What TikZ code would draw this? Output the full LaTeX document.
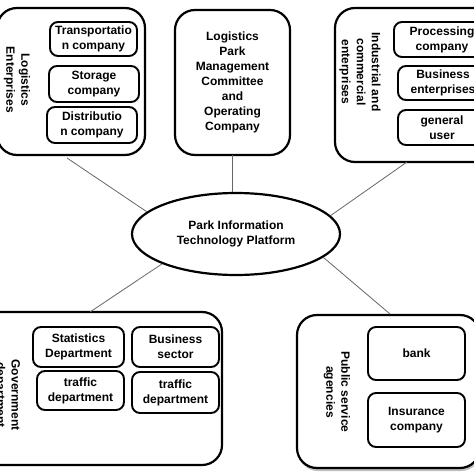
\documentclass[tikz,border=0pt]{standalone}
\usepackage{fontspec}
\setmainfont{Liberation Sans}
\usetikzlibrary{shapes.geometric}
\begin{document}
\begin{tikzpicture}[x=1bp,y=-1bp,
  every node/.style={font=\fontsize{12bp}{15bp}\selectfont\bfseries, align=center, inner sep=0pt},
  outer/.style={draw=black, line width=2.2bp, rounded corners=20bp, minimum width=#1},
  inner/.style={draw=black, line width=1.9bp, rounded corners=8bp},
  lbl/.style={rotate=-90},
  conn/.style={draw=black!60, line width=0.8bp}]
\useasboundingbox (0,0) rectangle (474,474);
% top-left
\node[outer=148bp, minimum height=147bp] (tl) at (71,81.5) {};
\node[inner, minimum width=87bp, minimum height=34bp] (tl1) at (93.5,39) {Transportatio\\n company};
\node[inner, minimum width=90bp, minimum height=36bp] (tl2) at (94,84) {Storage\\company};
\node[inner, minimum width=90bp, minimum height=36bp] (tl3) at (92,125) {Distributio\\n company};
\node[lbl] (tll) at (17,80) {Logistics\\Enterprises};
% top middle
\node[outer=115bp, minimum height=145bp] (tm) at (232.5,82.5) {Logistics\\Park\\Management\\Committee\\and\\Operating\\Company};
% top-right
\node[outer=165bp, minimum height=154bp] (tr) at (417.5,85) {};
\node[inner, minimum width=96bp, minimum height=35bp] (tr1) at (442,39.5) {Processing\\company};
\node[inner, minimum width=90bp, minimum height=34bp] (tr2) at (443,83) {Business\\enterprises};
\node[inner, minimum width=88bp, minimum height=35bp] (tr3) at (442,127.5) {general\\user};
\node[lbl] (trl) at (360,72) {Industrial and\\commercial\\enterprises};
% ellipse
\node[ellipse, draw=black, line width=2.2bp, minimum width=208bp, minimum height=82bp] (ell) at (236,234) {Park Information\\Technology Platform};
% bottom-left
\node[outer=247bp, minimum height=153bp] (bl) at (98.5,388.5) {};
\node[inner, minimum width=91bp, minimum height=40bp] (bl1) at (78.5,347) {Statistics\\Department};
\node[inner, minimum width=87bp, minimum height=40bp] (bl2) at (175.5,347) {Business\\sector};
\node[inner, minimum width=87bp, minimum height=39bp] (bl3) at (80.5,390.5) {traffic\\department};
\node[inner, minimum width=87bp, minimum height=41bp] (bl4) at (175.5,392.5) {traffic\\department};
\node[lbl] (bll) at (7,395) {Government\\department};
% bottom-right (with soft shadow)
\node[fill=black!25, rounded corners=20bp, minimum width=183bp, minimum height=153bp] (brs) at (389.5,394.5) {};
\node[outer=183bp, minimum height=153bp, fill=white] (br) at (388.5,391.5) {};
\node[inner, minimum width=97bp, minimum height=53bp] (br1) at (416.5,353.5) {bank};
\node[inner, minimum width=97bp, minimum height=54bp] (br2) at (416.5,420) {Insurance\\company};
\node[lbl] (brl) at (337,392) {Public service\\agencies};
% connectors
\coordinate (ctl) at (67,158);
\coordinate (ctm) at (232,155);
\coordinate (ctr) at (407,162);
\coordinate (cbl) at (90,312);
\coordinate (cbr) at (390,314);
\draw[conn] (ctl) -- (ell.166);
\draw[conn] (ctm) -- (ctm |- ell.north);
\draw[conn] (ctr) -- (ell.11);
\draw[conn] (cbl) -- (ell.202);
\draw[conn] (cbr) -- (ell.345);
\end{tikzpicture}
\end{document}
